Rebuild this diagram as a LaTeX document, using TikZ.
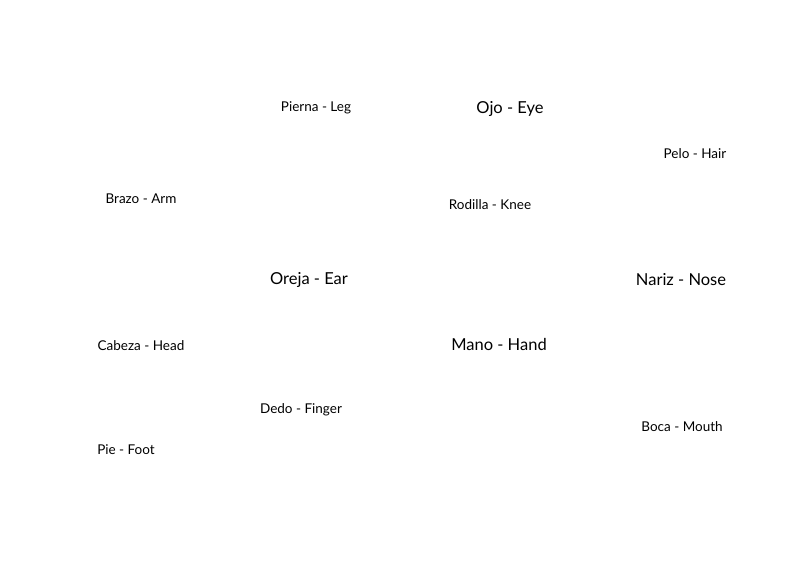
\documentclass[tikz,border=0pt]{standalone}
\usepackage{fontspec}
\setmainfont{Lato}
\begin{document}
\begin{tikzpicture}[x=1bp, y=-1bp,
    word/.style={font=\fontsize{13.5bp}{16bp}\selectfont},
    bigword/.style={font=\fontsize{16.5bp}{20bp}\selectfont}]
    \useasboundingbox (0,0) rectangle (794,561);
    % scattered vocabulary
    \node[word] (leg) at (316,108) {Pierna - Leg};
    \node[bigword] (eye) at (510,109) {Ojo - Eye};
    \node[word] (hair) at (695,154) {Pelo - Hair};
    \node[word] (arm) at (141,199) {Brazo - Arm};
    \node[word] (knee) at (490,205) {Rodilla - Knee};
    \node[bigword] (ear) at (309,280) {Oreja - Ear};
    \node[bigword] (nose) at (681,280) {Nariz - Nose};
    \node[word] (head) at (141,346) {Cabeza - Head};
    \node[bigword] (hand) at (499,344) {Mano - Hand};
    \node[word] (finger) at (301,410) {Dedo - Finger};
    \node[word] (mouth) at (682,427) {Boca - Mouth};
    \node[word] (foot) at (126,450) {Pie - Foot};
\end{tikzpicture}
\end{document}
